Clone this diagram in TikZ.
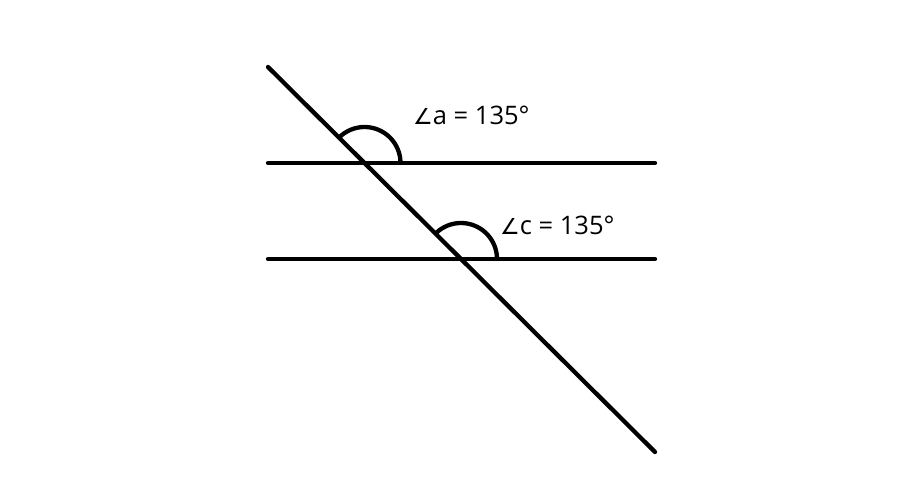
\documentclass[tikz,border=0pt]{standalone}
\usepackage{fontspec}
\setmainfont{Open Sans}
\newfontfamily\symfont{DejaVu Sans}
\begin{document}
\begin{tikzpicture}[x=1pt,y=1pt,
  lineseg/.style={line width=4.3pt,line cap=round},
  anglearc/.style={line width=4.3pt},
  lbl/.style={anchor=base west,inner sep=0pt,font=\fontsize{25.5}{30}\selectfont}]
\useasboundingbox (0,0) rectangle (917,502);
\coordinate (t1) at (268,435);
\coordinate (t2) at (655,50);
\coordinate (a1) at (268,339);
\coordinate (a2) at (655,339);
\coordinate (b1) at (268,243);
\coordinate (b2) at (655,243);
\coordinate (pa) at (364.5,339);
\coordinate (pb) at (461,243);
\draw[lineseg] (a1) -- (a2);
\draw[lineseg] (b1) -- (b2);
\draw[lineseg] (t1) -- (t2);
\draw[anglearc] ([xshift=36pt]pa) arc[start angle=0,end angle=135,radius=36];
\draw[anglearc] ([xshift=36pt]pb) arc[start angle=0,end angle=135,radius=36];
\node[lbl] (la) at (413,377) {{\symfont\fontsize{22}{26}\selectfont ∠}a = 135°};
\node[lbl] (lc) at (500,267) {{\symfont\fontsize{22}{26}\selectfont ∠}c = 135°};
\end{tikzpicture}
\end{document}
